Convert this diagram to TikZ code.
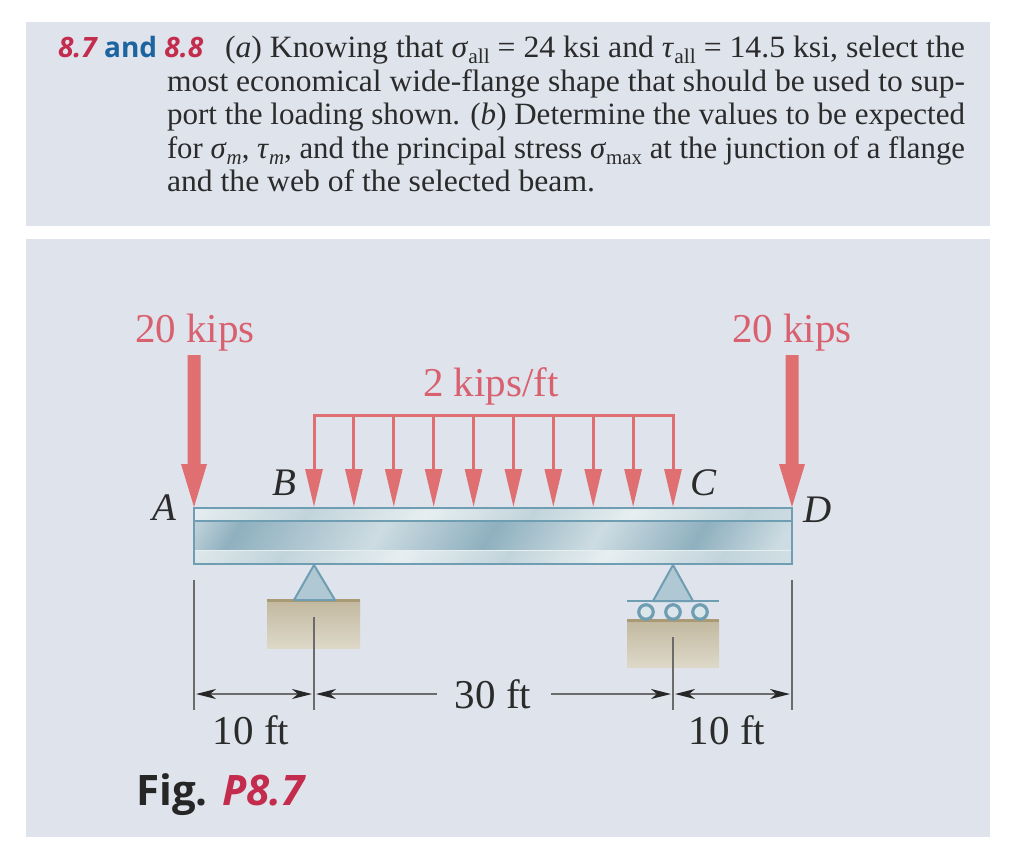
\documentclass[tikz,border=0pt]{standalone}
\usepackage[no-math]{fontspec}
\usepackage{graphicx}
\setmainfont{Liberation Serif}
\newfontfamily\figsans{Open Sans}
\usetikzlibrary{arrows.meta,calc}
\definecolor{panel}{HTML}{DFE3EC}
\definecolor{load}{HTML}{E06F72}
\definecolor{loadtxt}{HTML}{D9606F}
\definecolor{beamedge}{HTML}{6F9DB2}
\definecolor{trifill}{HTML}{B0C8D3}
\definecolor{crimson}{HTML}{C42C4E}
\definecolor{navy}{HTML}{1C64A0}
\definecolor{inktxt}{HTML}{2B2B2B}
\definecolor{groundtop}{HTML}{A89A74}
\definecolor{dimgray}{HTML}{6B6B6B}
\definecolor{webdark}{HTML}{8FB0BF}
\definecolor{weblight}{HTML}{CDDCE2}
\definecolor{fldark}{HTML}{C2D4DB}
\definecolor{flmid}{HTML}{D2E0E5}
\definecolor{fllight}{HTML}{E6EEF0}
\definecolor{gndlow}{HTML}{DDD8C8}
\definecolor{gndhigh}{HTML}{C2B89F}
\pgfdeclarehorizontalshading{beamweb}{100bp}{
 color(0bp)=(weblight);color(25bp)=(weblight);color(29.6bp)=(webdark);color(40.9bp)=(weblight);color(49.8bp)=(webdark);
 color(58.3bp)=(weblight);color(66.3bp)=(webdark);color(73bp)=(weblight);color(100bp)=(weblight)}
\pgfdeclarehorizontalshading{beamflange}{100bp}{
 color(0bp)=(fllight);color(25bp)=(fllight);color(34.4bp)=(fldark);color(43.8bp)=(fllight);color(52.2bp)=(fldark);
 color(59.9bp)=(fllight);color(69.1bp)=(fldark);color(75bp)=(flmid);color(100bp)=(flmid)}
\pgfdeclareverticalshading{groundsh}{100bp}{
 color(0bp)=(gndlow);color(25bp)=(gndlow);color(75bp)=(gndhigh);color(100bp)=(gndhigh)}
\newcommand{\fitline}[2]{\resizebox{#1}{\height}{#2}}
\newcommand{\lowtxt}[1]{\raisebox{-6pt}{\fontsize{21}{21}\selectfont #1}}
\newcommand{\lowit}[1]{\raisebox{-6pt}{\fontsize{21}{21}\selectfont\itshape #1}}
\tikzset{
 x=1pt,y=-1pt,
 txtline/.style={anchor=base west,inner sep=0pt,outer sep=0pt,font=\fontsize{31}{31}\selectfont,text=inktxt},
 figlabel/.style={inner sep=0pt,outer sep=0pt,font=\fontsize{41}{41}\selectfont,text=inktxt,anchor=base},
 loadlabel/.style={figlabel,text=loadtxt},
 point/.style={figlabel,font=\fontsize{39}{39}\selectfont\itshape},
 heavyload/.style={draw=none,fill=load},
 dist/.style={draw=load,line width=3pt,-{Triangle[length=38pt,width=17pt,fill=load]}},
 dimline/.style={draw=dimgray,line width=2.1pt},
 dimflow/.style={draw=dimgray,line width=1.8pt},
 dimtip/.style={},
 panelbox/.style={fill=panel,draw=none},
 tri/.style={fill=trifill,draw=beamedge,line width=2pt,line join=round},
 roller/.style={circle,draw=beamedge,line width=3.2pt,fill=trifill!45,minimum size=14.5pt,inner sep=0pt},
 >={Stealth[length=20pt,width=10pt,inset=6pt,black!85]},
}
\begin{document}
\begin{tikzpicture}
\useasboundingbox (0,0) rectangle (1024,865);
\fill[white] (0,0) rectangle (1024,865);
\fill[panelbox] (26,22) rectangle (990,226);
\fill[panelbox] (26,239) rectangle (990,837);

% problem text
\node[txtline,font=\figsans\bfseries\fontsize{28}{28}\selectfont] (num) at (58,57)
  {\textit{\textcolor{crimson}{8.7}} \textcolor{navy}{and} \textit{\textcolor{crimson}{8.8}}};
\node[txtline] (l1) at (225,57) {\fitline{740pt}{(\textit{a}) Knowing that \textit{σ}\lowtxt{all} = 24 ksi and \textit{τ}\lowtxt{all} = 14.5 ksi, select the}};
\node[txtline] (l2) at (167,91) {\fitline{798pt}{most economical wide-flange shape that should be used to sup-}};
\node[txtline] (l3) at (167,124) {\fitline{798pt}{port the loading shown. (\textit{b}) Determine the values to be expected}};
\node[txtline] (l4) at (167,158) {\fitline{798pt}{for \textit{σ}\lowit{m}, \textit{τ}\lowit{m}, and the principal stress \textit{σ}\lowtxt{max} at the junction of a flange}};
\node[txtline] (l5) at (167,191) {\fitline{428pt}{and the web of the selected beam.}};

% supports
\fill[shading=groundsh] (267,600) rectangle (360,648);
\draw[groundtop,line width=2.4pt] (267,600.5) -- (360,600.5);
\fill[shading=groundsh] (627,620) rectangle (719,667);
\draw[groundtop,line width=2.4pt] (627,620.5) -- (719,620.5);
\draw[tri] (314,565) -- (335,600) -- (294,600) -- cycle;
\draw[tri] (673,565) -- (693,601) -- (653,601) -- cycle;
\draw[beamedge,line width=2pt] (627,601) -- (719,601);
\node[roller] (r1) at (646,612) {};
\node[roller] (r2) at (673,612) {};
\node[roller] (r3) at (700,612) {};

% beam
\begin{scope}
\clip (194,508) rectangle (792,521);
\shade[transform canvas={xshift=321.3pt,xslant=0.6},shading=beamflange] (175,500) rectangle (810,575);
\end{scope}
\begin{scope}
\clip (194,521) rectangle (792,550);
\shade[transform canvas={xshift=321.3pt,xslant=0.6},shading=beamweb] (175,500) rectangle (810,575);
\end{scope}
\begin{scope}
\clip (194,550) rectangle (792,564);
\shade[transform canvas={xshift=321.3pt,xslant=0.6},shading=beamflange] (175,500) rectangle (810,575);
\end{scope}
\draw[beamedge,line width=2.3pt] (194,521) -- (792,521);
\draw[fllight,line width=1.4pt] (194,550.5) -- (792,550.5);
\draw[beamedge,line width=2.2pt] (194,508) rectangle (792,564);

% concentrated loads
\fill[heavyload] (187.5,355) -- (200.5,355) -- (200.5,464) -- (207,464) -- (194,507) -- (181,464) -- (187.5,464) -- cycle;
\fill[heavyload] (785.5,355) -- (798.5,355) -- (798.5,464) -- (805,464) -- (792,507) -- (779,464) -- (785.5,464) -- cycle;

% distributed load
\coordinate (dl) at (314,415);
\coordinate (dr) at (673,415);
\draw[load,line width=3pt] ($(dl)+(-1.5,0)$) -- ($(dr)+(1.5,0)$);
\foreach \i in {0,...,9} {
  \coordinate (t\i) at ($(dl)!\i/9!(dr)$);
  \coordinate (b\i) at ($(t\i)+(0,92)$);
  \draw[dist] (t\i) -- (b\i);
}

% dimensions
\coordinate (a1) at (194,580); \coordinate (a2) at (194,710);
\coordinate (b1) at (314,617); \coordinate (b2) at (314,710);
\coordinate (c1) at (673,637); \coordinate (c2) at (673,710);
\coordinate (d1) at (792,580); \coordinate (d2) at (792,710);
\draw[dimline] (a1) -- (a2);
\draw[dimline] (b1) -- (b2);
\draw[dimline] (c1) -- (c2);
\draw[dimline] (d1) -- (d2);
\coordinate (da) at (196,694); \coordinate (db1) at (312,694);
\coordinate (db2) at (316,694); \coordinate (dc1) at (671,694);
\coordinate (dc2) at (675,694); \coordinate (dd) at (790,694);
\draw[dimflow,<->] (da) -- (db1);
\draw[dimflow,<->] (dc2) -- (dd);
\node[figlabel] (l30) at (493,708) {30 ft};
\draw[dimflow,<-] (db2) -- (437,694);
\draw[dimflow,->] (551,694) -- (dc1);
\node[figlabel] (l10a) at (251,744) {10 ft};
\node[figlabel] (l10b) at (727,744) {10 ft};

% labels
\node[loadlabel] (kl) at (195,342) {20 kips};
\node[loadlabel] (kr) at (792,342) {20 kips};
\node[loadlabel] (kd) at (491,396) {2 kips/ft};
\node[point] (A) at (164,520) {A};
\node[point] (B) at (284,495) {B};
\node[point] (C) at (703,495) {C};
\node[point] (D) at (818,522) {D};
\node[anchor=base west,inner sep=0pt,font=\figsans\bfseries\fontsize{42}{42}\selectfont,text=black!85] (fig) at (136,805) {Fig. \textit{\textcolor{crimson}{P8.7}}};
\end{tikzpicture}
\end{document}
